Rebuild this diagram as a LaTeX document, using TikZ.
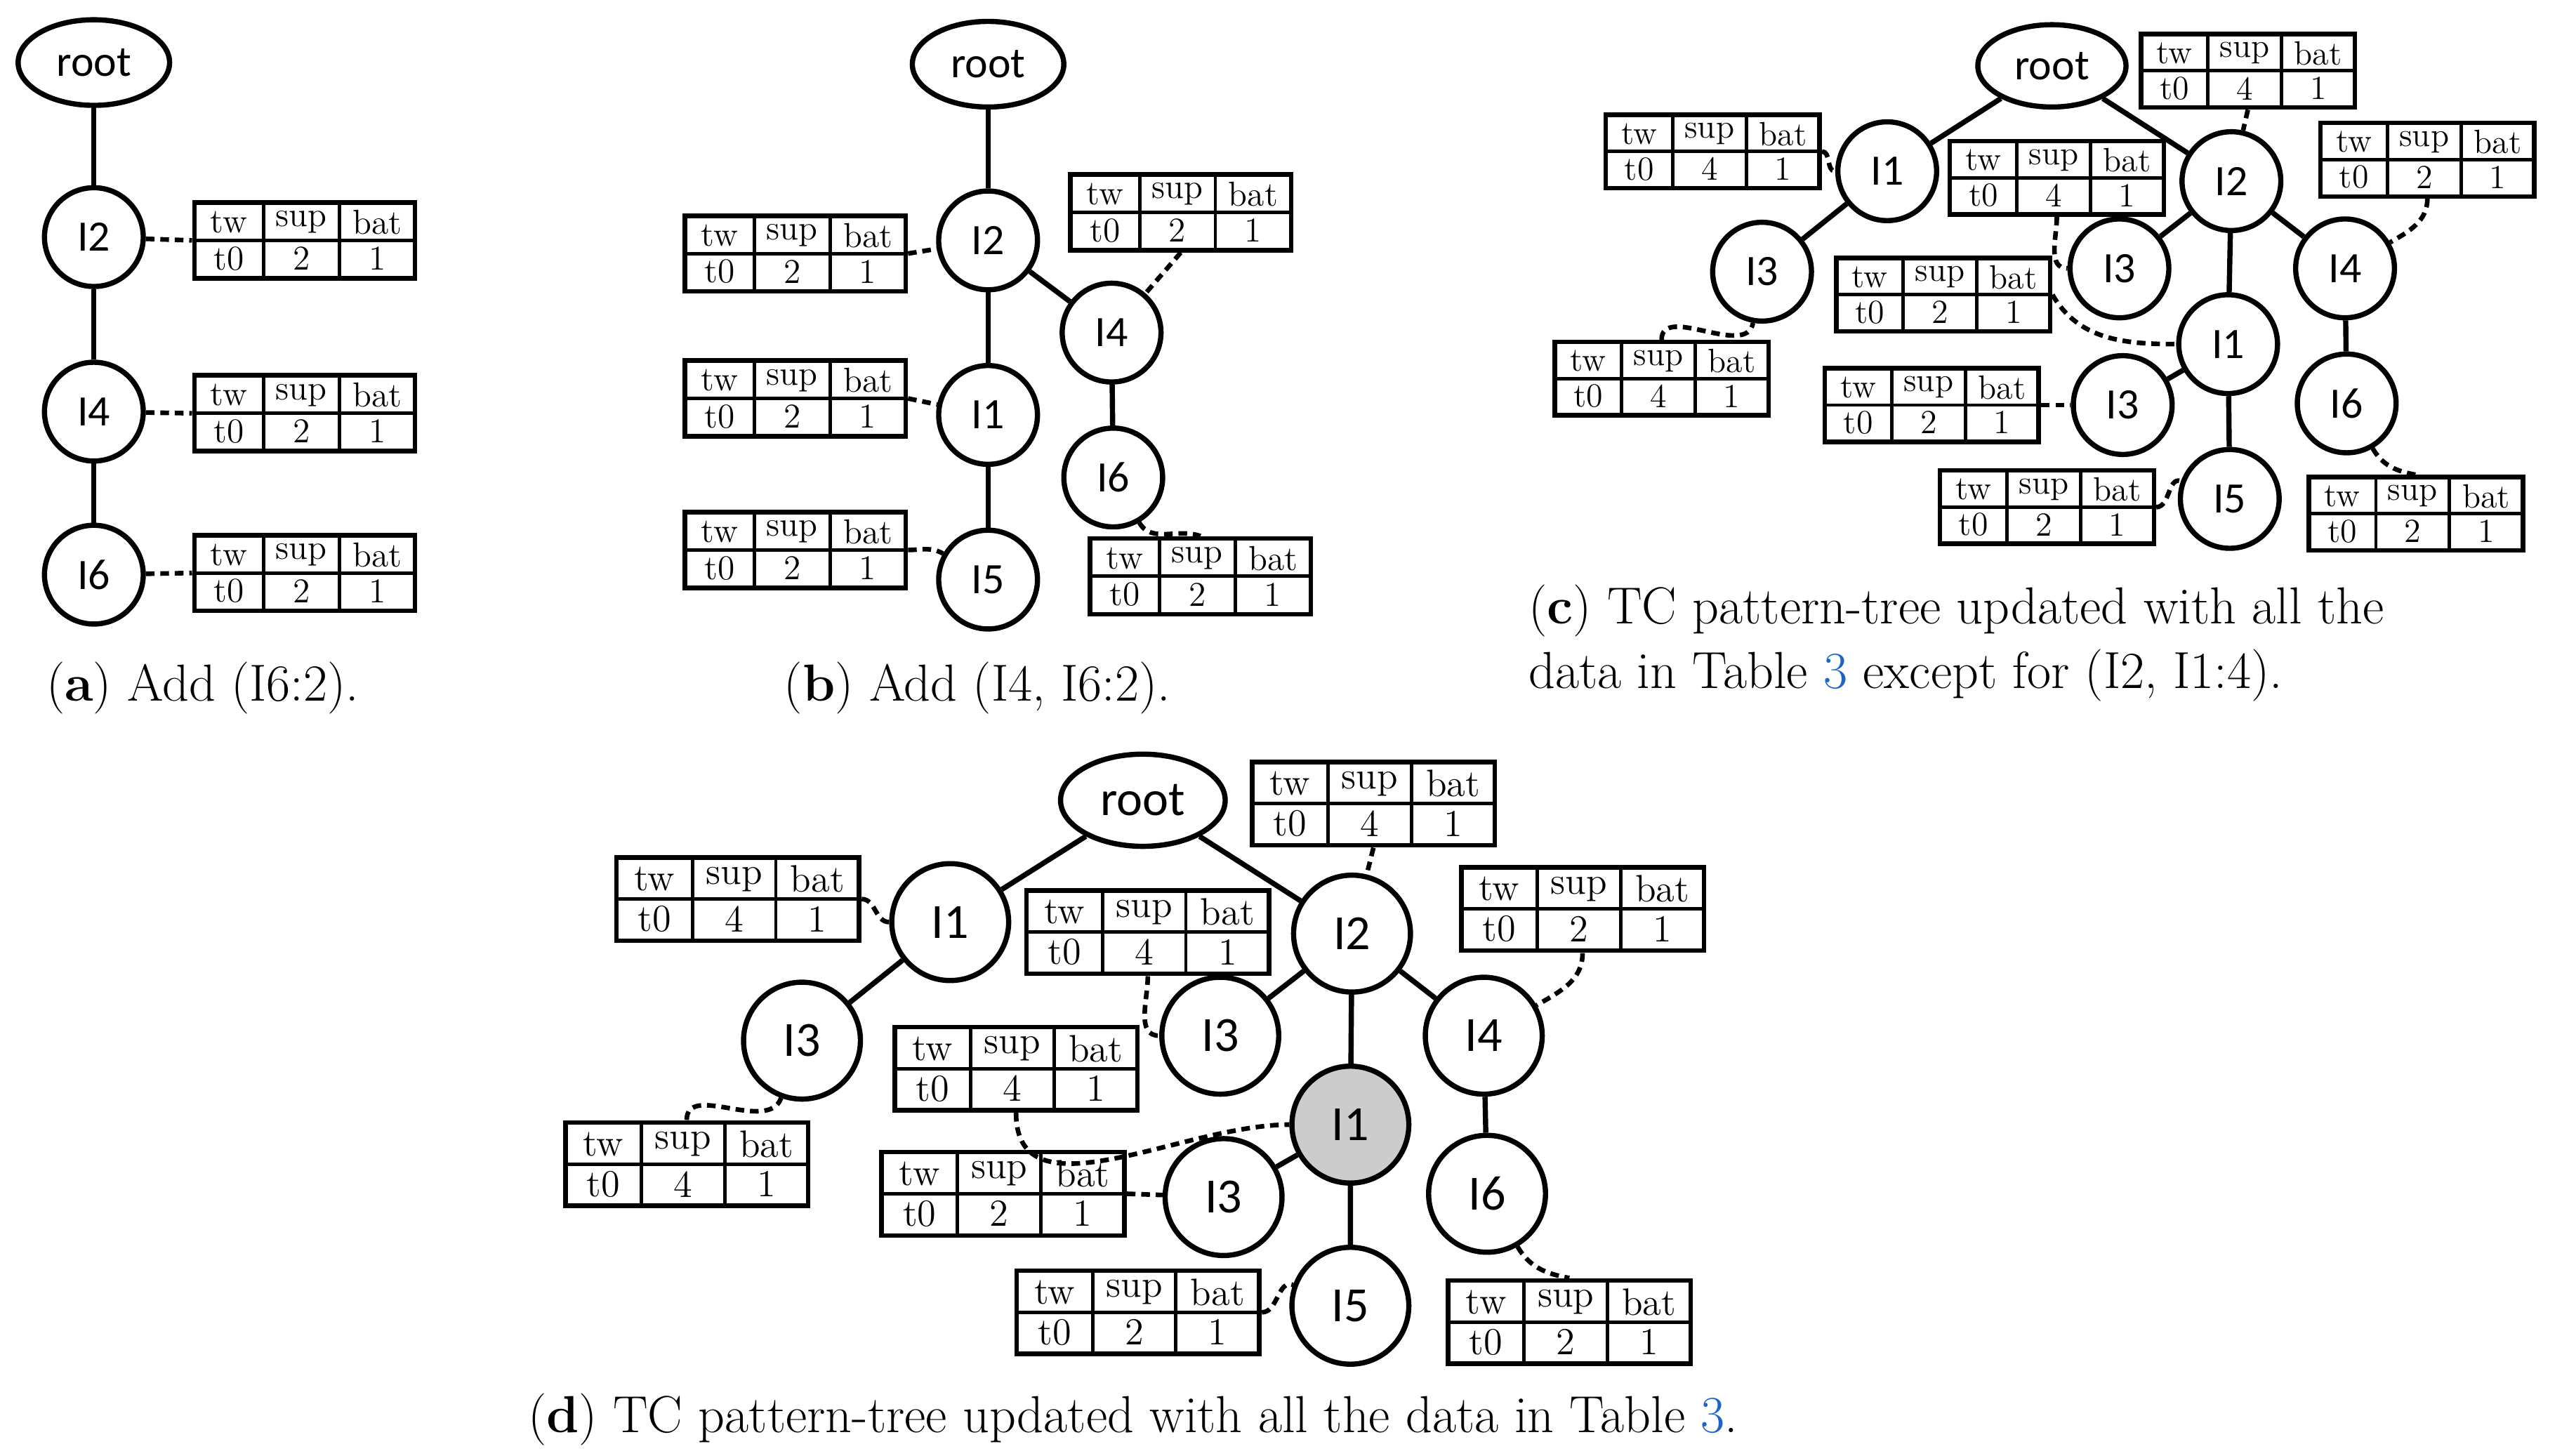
\documentclass[tikz,border=0pt]{standalone}
\usetikzlibrary{shapes.geometric}
\usepackage{fontspec}
\newfontfamily\nf{Carlito}
\usepackage{xcolor}
\definecolor{lnk}{RGB}{30,100,200}
\begin{document}
\begin{tikzpicture}[x=0.02cm,y=-0.02cm,
 nd/.style={draw,circle,line width=1.8pt,minimum size=1.2cm,inner sep=0pt,font=\nf\fontsize{15}{15}\selectfont},
 ndd/.style={nd,minimum size=1.42cm,font=\nf\fontsize{17}{17}\selectfont},
 rt/.style={draw,ellipse,line width=1.8pt,minimum width=1.84cm,minimum height=1.04cm,inner sep=0pt,font=\nf\fontsize{15}{15}\selectfont},
 ed/.style={line width=1.8pt},
 dl/.style={line width=1.6pt,densely dashed},
 captxt/.style={anchor=west,font=\fontsize{18}{22}\selectfont}]
\useasboundingbox (0,0) rectangle (1560,884);
\newcommand\tb[6]{%
 \begin{scope}[shift={(#2,#3)},scale=#6,transform shape]
 \node[draw,line width=1.6pt,minimum width=2.68cm,minimum height=0.92cm,inner sep=0pt] (#1) at (0,0) {};
 \draw[line width=1.2pt] (-67,0)--(67,0) (-25,-23)--(-25,23) (21,-23)--(21,23);
 \begin{scope}[font=\fontsize{12}{12}\selectfont]
 \node at (-46,-11) {tw}; \node at (-2,-11) {sup}; \node at (44,-11) {bat};
 \node at (-46,11) {t0}; \node at (-2,11) {#4}; \node at (44,11) {#5};
 \end{scope}
 \end{scope}}
% (a)
\node[rt] (aR) at (57,38) {root};
\node[nd] (a2) at (57,144) {I2};
\node[nd] (a4) at (57,250) {I4};
\node[nd] (a6) at (57,349) {I6};
\draw[ed] (aR)--(a2)--(a4)--(a6);
\tb{at2}{185}{146}{2}{1}{1}
\tb{at4}{185}{251}{2}{1}{1}
\tb{at6}{185}{348}{2}{1}{1}
\draw[dl] (a2)--(at2.west); \draw[dl] (a4)--(at4.west); \draw[dl] (a6)--(at6.west);
\node[captxt] at (22,418) {(\textbf{a}) Add (I6:2).};
% (b)
\node[rt] (bR) at (600,39) {root};
\node[nd] (b2) at (600,146) {I2};
\node[nd] (b1) at (600,252) {I1};
\node[nd] (b5) at (600,352) {I5};
\node[nd] (b4) at (675,202) {I4};
\node[nd] (b6) at (676,290) {I6};
\draw[ed] (bR)--(b2)--(b1)--(b5); \draw[ed] (b2)--(b4)--(b6);
\tb{bt2}{483}{154}{2}{1}{1}
\tb{bt1}{483}{242}{2}{1}{1}
\tb{bt5}{483}{334}{2}{1}{1}
\tb{bt4}{717}{129}{2}{1}{1}
\tb{bt6}{729}{350}{2}{1}{1}
\draw[dl] (bt2.east)--(b2); \draw[dl] (bt1.east)--(b1); \draw[dl] (bt5.east) to[out=0,in=150] (b5);
\draw[dl] (bt4.south)--(b4); \draw[dl] (b6) to[out=-60,in=160] (bt6.north);
\node[captxt] at (470,418) {(\textbf{b}) Add (I4, I6:2).};
% (c)
\node[rt,minimum width=1.8cm,minimum height=1.0cm] (cR) at (1246,40) {root};
\node[nd] (c1) at (1146,104) {I1};
\node[nd] (c2) at (1355,110) {I2};
\node[nd] (c3a) at (1070,165) {I3};
\node[nd] (c3b) at (1287,163) {I3};
\node[nd] (c4) at (1424,163) {I4};
\node[nd] (c1b) at (1353,209) {I1};
\node[nd] (c3c) at (1289,246) {I3};
\node[nd] (c5) at (1354,303) {I5};
\node[nd] (c6) at (1425,245) {I6};
\draw[ed] (cR)--(c1)--(c3a); \draw[ed] (cR)--(c2)--(c3b); \draw[ed] (c2)--(c4)--(c6);
\draw[ed] (c2)--(c1b)--(c5); \draw[ed] (c1b)--(c3c);
\tb{ct1}{1040}{92}{4}{1}{0.97}
\tb{ct2}{1365}{43}{4}{1}{0.97}
\tb{ct3b}{1249}{108}{4}{1}{0.97}
\tb{ct4}{1474}{97}{2}{1}{0.97}
\tb{ct3a}{1009}{230}{4}{1}{0.97}
\tb{ct1b}{1180}{179}{2}{1}{0.97}
\tb{ct3c}{1173}{246}{2}{1}{0.97}
\tb{ct5}{1243}{308}{2}{1}{0.97}
\tb{ct6}{1467}{312}{2}{1}{0.97}
\draw[dl] (ct1.east) to[out=0,in=180] (c1);
\draw[dl] (ct2.south) -- (c2);
\draw[dl] (ct3b.south) to[out=-90,in=180] (c3b);
\draw[dl] (ct4.south) to[out=-90,in=30] (c4);
\draw[dl] (ct3a.north) to[out=90,in=-100] (c3a);
\draw[dl] (ct1b.east) to[out=-60,in=180] (c1b);
\draw[dl] (ct3c.east)--(c3c);
\draw[dl] (ct5.east) to[out=0,in=160] (c5);
\draw[dl] (c6) to[out=-60,in=170] (ct6.north);
\node[captxt] at (922,371) {(\textbf{c}) TC pattern-tree updated with all the};
\node[captxt] at (922,410) {data in Table \textcolor{lnk}{3} except for (I2, I1:4).};
% (d)
\node[rt,minimum width=2.0cm,minimum height=1.12cm,font=\nf\fontsize{17}{17}\selectfont] (dR) at (694,486) {root};
\node[ndd] (d1) at (577,560) {I1};
\node[ndd] (d2) at (821,567) {I2};
\node[ndd] (d3a) at (487,632) {I3};
\node[ndd] (d3b) at (741,629) {I3};
\node[ndd] (d4) at (901,629) {I4};
\node[ndd,fill=black!20] (d1b) at (820,683) {I1};
\node[ndd] (d3c) at (743,727) {I3};
\node[ndd] (d5) at (820,793) {I5};
\node[ndd] (d6) at (903,725) {I6};
\draw[ed] (dR)--(d1)--(d3a); \draw[ed] (dR)--(d2)--(d3b); \draw[ed] (d2)--(d4)--(d6);
\draw[ed] (d2)--(d1b)--(d5); \draw[ed] (d1b)--(d3c);
\tb{dt1}{448}{546}{4}{1}{1.1}
\tb{dt2}{834}{488}{4}{1}{1.1}
\tb{dt3b}{697}{566}{4}{1}{1.1}
\tb{dt4}{961}{552}{2}{1}{1.1}
\tb{dt3a}{417}{707}{4}{1}{1.1}
\tb{dt1b}{617}{649}{4}{1}{1.1}
\tb{dt3c}{609}{725}{2}{1}{1.1}
\tb{dt5}{691}{797}{2}{1}{1.1}
\tb{dt6}{953}{803}{2}{1}{1.1}
\draw[dl] (dt1.east) to[out=0,in=180] (d1);
\draw[dl] (dt2.south) -- (d2);
\draw[dl] (dt3b.south) to[out=-90,in=180] (d3b);
\draw[dl] (dt4.south) to[out=-90,in=30] (d4);
\draw[dl] (dt3a.north) to[out=90,in=-110] (d3a);
\draw[dl] (dt1b.south) to[out=-90,in=180] (d1b);
\draw[dl] (dt3c.east)--(d3c);
\draw[dl] (dt5.east) to[out=0,in=160] (d5);
\draw[dl] (d6) to[out=-60,in=170] (dt6.north);
\node[captxt,anchor=center] at (688,862) {(\textbf{d}) TC pattern-tree updated with all the data in Table \textcolor{lnk}{3}.};
\end{tikzpicture}
\end{document}
